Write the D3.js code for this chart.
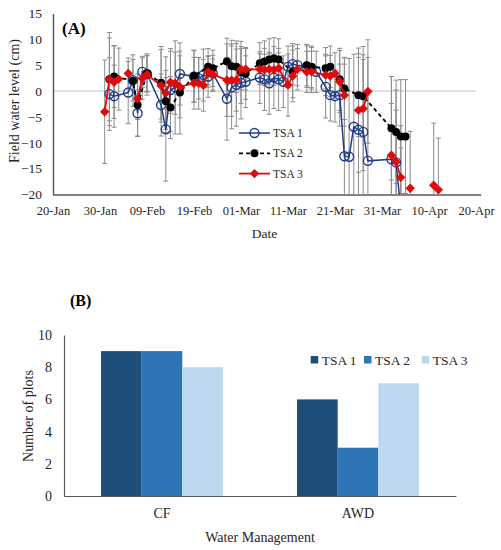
<!DOCTYPE html>
<html><head><meta charset="utf-8">
<script src="https://cdn.jsdelivr.net/npm/d3@7"></script>
<style>
html,body{margin:0;padding:0;background:#fff;}
text{font-family:"Liberation Serif","DejaVu Serif",serif;fill:#262626;}
</style></head>
<body><svg id="c" width="501" height="550"></svg>
<script>
// ---------- Panel A data ----------
const seriesNames = ["TSA 1", "TSA 2", "TSA 3"];
const xTickLabels = ["2019-01-20","2019-01-30","2019-02-09","2019-02-19","2019-03-01","2019-03-11","2019-03-21","2019-03-31","2019-04-10","2019-04-20"];
const yTicksA = [15,10,5,0,-5,-10,-15,-20];

const tsa1Dates = ["02-01","02-02","02-05","02-06","02-07","02-08","02-09","02-12","02-13","02-14","02-15","02-16","02-19","02-20","02-21","02-22","02-23","02-26","02-27","02-28","03-01","03-02","03-05","03-06","03-07","03-08","03-09","03-10","03-11","03-12","03-13","03-15","03-16","03-17","03-19","03-20","03-21","03-22","03-23","03-24","03-25","03-26","03-27","03-28","04-02","04-03","04-04"];
const tsa1Values = [-0.6,-1.0,-0.3,2.1,-4.3,3.7,3.3,-2.7,-7.4,0.2,0.7,3.3,2.8,2.45,3.1,2.8,3.4,-1.5,0.7,1.2,1.6,1.8,2.6,2.25,1.5,2.6,2.25,1.8,4.7,5.2,5.0,4.7,4.4,3.7,0.8,-0.8,-1.0,-0.8,-12.6,-12.7,-6.9,-7.5,-7.9,-13.5,-13.2,-13.8,-23];
const tsa1Errors = [7,6,6,4,4.5,3,3.5,6,10,8,9,6,5,4,5,4,3.5,8,8,8,7,5,5,6,6,6,6,5,4,4,4,4,4,4,6,5,5,6,19,19,14,14,14,20,16,14,12];

const tsa2Dates = ["02-01","02-02","02-06","02-07","02-09","02-12","02-13","02-14","02-16","02-19","02-22","02-23","02-26","02-27","02-28","03-01","03-02","03-05","03-06","03-07","03-08","03-09","03-12","03-15","03-16","03-19","03-20","03-22","03-23","03-26","03-27","04-02","04-03","04-04","04-05"];
const tsa2Values = [2.25,2.8,2.0,-2.7,3.4,1.6,-2.0,-3.2,-0.3,2.9,4.7,4.4,5.7,4.8,4.7,3.6,3.4,5.35,5.7,6.1,6.3,6.1,3.7,5.0,4.7,4.4,4.7,2.25,0.5,-0.8,-1.0,-7.2,-7.9,-8.8,-8.8];
const tsa2Errors = [8,6,5,6,3.5,7,6,6,8,5,3.5,3.5,4.5,5,5,6,5,4,4,4,4,4,5,4,4,4,4,6,6,8,8,10,10,11,11];

const tsa3Dates = ["01-31","02-01","02-02","02-03","02-04","02-05","02-06","02-07","02-08","02-09","02-12","02-13","02-14","02-15","02-16","02-19","02-20","02-21","02-22","02-23","02-26","02-27","02-28","03-01","03-02","03-05","03-06","03-07","03-08","03-09","03-11","03-12","03-13","03-15","03-16","03-19","03-20","03-21","03-22","03-23","03-24","03-26","03-27","03-28","03-29","04-02","04-03","04-04","04-05","04-06","04-07","04-11","04-12"];
const tsa3Values = [-4.0,2.3,1.7,2.3,null,3.4,null,-1.5,2.4,3.2,1.0,-0.4,1.7,1.5,0.8,1.5,1.5,1.1,3.7,3.2,2.1,2.1,2.1,4.2,4.2,4.2,4.1,4.2,4.1,4.4,1.15,2.9,4.2,3.7,3.7,3.1,2.9,3.4,1.8,-0.8,null,-3.7,-3.4,-0.1,null,-12.4,-13.7,-16.7,null,-18.8,null,-18.2,-19.1];
const tsa3Errors = [10,9,7,6,0,3,0,4,4,4,7,7,6,6,6,5,5,5,3,3,7,7,6,4,4,3,3,3,3,3,6,5,4,4,4,4,4,4,6,6,0,12,12,10,0,10,10,10,0,11,0,12,10];

// ---------- Panel B data ----------
const categoriesB = ["CF", "AWD"];
const plotsTSA1 = [9, 6];
const plotsTSA2 = [9, 3];
const plotsTSA3 = [8, 7];
const yTicksB = [0,2,4,6,8,10];

const colorsA = ["#1F3C88", "#000000", "#E00A0A"];
const colorsB = ["#1F4E79", "#2E75B6", "#BDD7EE"];
const FONT = "'Liberation Serif', 'DejaVu Serif', serif";

const parse = d3.timeParse("%Y-%m-%d");
const build = (dates, vals, errs) => dates.map((d,i)=>({date: parse("2019-"+d), v: vals[i], e: errs[i]}));
const seriesA = [
  build(tsa1Dates, tsa1Values, tsa1Errors),
  build(tsa2Dates, tsa2Values, tsa2Errors),
  build(tsa3Dates, tsa3Values, tsa3Errors)
];

const svg = d3.select("#c");

// ================= Panel A =================
const xA = d3.scaleTime().domain([parse("2019-01-20"), parse("2019-04-21")]).range([53, 480.7]);
const yA = d3.scaleLinear().domain([-20, 15]).range([194.5, 13.4]);

svg.append("defs").append("clipPath").attr("id","clipA")
  .append("rect").attr("x", xA.range()[0]).attr("y", 0)
  .attr("width", xA.range()[1]-xA.range()[0]).attr("height", yA(-20));

const gA = svg.append("g");

// zero line
gA.append("line").attr("x1", xA.range()[0]).attr("x2", xA(parse("2019-04-20")))
  .attr("y1", yA(0)).attr("y2", yA(0)).attr("stroke", "#BFBFBF").attr("stroke-width", 1);

// y axis
const yAxisA = d3.axisLeft(yA).tickValues(yTicksA).tickSize(0).tickPadding(11).tickFormat(d3.format("d"));
const yAx = gA.append("g").attr("transform", `translate(${xA.range()[0]},0)`).call(yAxisA);
yAx.select(".domain").attr("stroke", "#595959").attr("stroke-width", 1.5);
yAx.selectAll("text").style("font-size", "13.5px");

// x axis
const xAxisA = d3.axisBottom(xA).tickValues(xTickLabels.map(parse)).tickSize(0).tickPadding(12)
  .tickFormat(d3.timeFormat("%d-%b"));
const xAx = gA.append("g").attr("transform", `translate(0,${yA(-20)})`).call(xAxisA);
xAx.select(".domain").attr("stroke", "#595959").attr("stroke-width", 1.5);
xAx.selectAll("text").style("font-size", "12.5px");

const plotA = gA.append("g").attr("clip-path", "url(#clipA)");

// error bars
seriesA.forEach(s => {
  const eb = plotA.append("g").attr("stroke", "#8C8C8C").attr("stroke-width", 1);
  s.filter(d => d.v !== null).forEach(d => {
    const x = xA(d.date);
    eb.append("line").attr("x1", x).attr("x2", x).attr("y1", yA(d.v + d.e)).attr("y2", yA(d.v - d.e));
    eb.append("line").attr("x1", x-2.5).attr("x2", x+2.5).attr("y1", yA(d.v + d.e)).attr("y2", yA(d.v + d.e));
    eb.append("line").attr("x1", x-2.5).attr("x2", x+2.5).attr("y1", yA(d.v - d.e)).attr("y2", yA(d.v - d.e));
  });
});

const lineA = d3.line().defined(d => d.v !== null).x(d => xA(d.date)).y(d => yA(d.v));
const diamond = d3.symbol().type(d3.symbolSquare).size(44);

function drawMarker(g, i, x, y) {
  if (i === 0) {
    g.append("circle").attr("cx", x).attr("cy", y).attr("r", 4.5)
      .attr("fill", "none").attr("stroke", colorsA[0]).attr("stroke-width", 1.4);
  } else if (i === 1) {
    g.append("circle").attr("cx", x).attr("cy", y).attr("r", 4).attr("fill", colorsA[1]);
  } else {
    g.append("path").attr("d", diamond()).attr("transform", `translate(${x},${y}) rotate(45)`).attr("fill", colorsA[2]);
  }
}

seriesA.forEach((s, i) => {
  plotA.append("path").datum(s).attr("d", lineA).attr("fill", "none")
    .attr("stroke", colorsA[i]).attr("stroke-width", i === 0 ? 1.5 : 1.8)
    .attr("stroke-dasharray", i === 1 ? "4,3" : null);
  const mg = plotA.append("g");
  s.filter(d => d.v !== null).forEach(d => drawMarker(mg, i, xA(d.date), yA(d.v)));
});

// legend A
const legA = gA.append("g");
seriesNames.forEach((n, i) => {
  const ly = 133 + i * 20.3;
  legA.append("line").attr("x1", 239).attr("x2", 270).attr("y1", ly).attr("y2", ly)
    .attr("stroke", colorsA[i]).attr("stroke-width", i === 0 ? 1.5 : 1.8)
    .attr("stroke-dasharray", i === 1 ? "4,3" : null);
  drawMarker(legA, i, 254.5, ly);
  legA.append("text").attr("x", 273).attr("y", ly).attr("dy", "0.35em").style("font-size", "11.5px").text(n);
});

// titles A
gA.append("text").attr("x", 62).attr("y", 34).style("font-size", "17px").style("font-weight", "bold").style("fill", "#000").text("(A)");
gA.append("text").attr("x", (xA.range()[0] + xA(parse("2019-04-20"))) / 2).attr("y", 238).attr("text-anchor", "middle")
  .style("font-size", "13.5px").text("Date");
gA.append("text").attr("transform", `translate(19,101) rotate(-90)`).attr("text-anchor", "middle")
  .style("font-size", "14px").text("Field water level (cm)");

// ================= Panel B =================
const xB = d3.scaleBand().domain(categoriesB).range([64, 456]).paddingInner(0.378).paddingOuter(0.189);
const xBin = d3.scaleBand().domain(seriesNames).range([0, xB.bandwidth()]);
const yB = d3.scaleLinear().domain([0, 10]).range([496, 335]);
const gB = svg.append("g");

const valuesB = [plotsTSA1, plotsTSA2, plotsTSA3];
seriesNames.forEach((n, si) => {
  categoriesB.forEach((c, ci) => {
    gB.append("rect").attr("x", xB(c) + xBin(n)).attr("width", xBin.bandwidth())
      .attr("y", yB(valuesB[si][ci])).attr("height", yB(0) - yB(valuesB[si][ci]))
      .attr("fill", colorsB[si]);
  });
});

const yAxB = gB.append("g").attr("transform", "translate(64,0)")
  .call(d3.axisLeft(yB).tickValues(yTicksB).tickSize(0).tickPadding(12).tickFormat(d3.format("d")));
yAxB.select(".domain").attr("stroke", "#595959").attr("stroke-width", 1.2);
yAxB.selectAll("text").style("font-size", "14px");

const xAxB = gB.append("g").attr("transform", `translate(0,${yB(0)})`)
  .call(d3.axisBottom(xB).tickSize(0).tickPadding(12));
xAxB.select(".domain").attr("stroke", "#595959").attr("stroke-width", 1.2);
xAxB.selectAll("text").style("font-size", "14px");

// legend B
const legBx = [310.7, 364, 421.7];
seriesNames.forEach((n, i) => {
  gB.append("rect").attr("x", legBx[i]).attr("y", 356).attr("width", 7.5).attr("height", 7.5).attr("fill", colorsB[i]);
  gB.append("text").attr("x", legBx[i] + 11).attr("y", 360).attr("dy", "0.35em").style("font-size", "13.5px").text(n);
});

gB.append("text").attr("x", 70).attr("y", 306).style("font-size", "16px").style("font-weight", "bold").style("fill", "#000").text("(B)");
gB.append("text").attr("x", 260).attr("y", 542).attr("text-anchor", "middle").style("font-size", "14px").text("Water Management");
gB.append("text").attr("transform", "translate(33,416) rotate(-90)").attr("text-anchor", "middle")
  .style("font-size", "14px").text("Number of plots");

// uniform serif font for all text
svg.selectAll("g").attr("font-family", null);
svg.selectAll("text").style("font-family", FONT);
svg.selectAll("text:not([style*='fill'])").style("fill", "#262626");
</script></body></html>
